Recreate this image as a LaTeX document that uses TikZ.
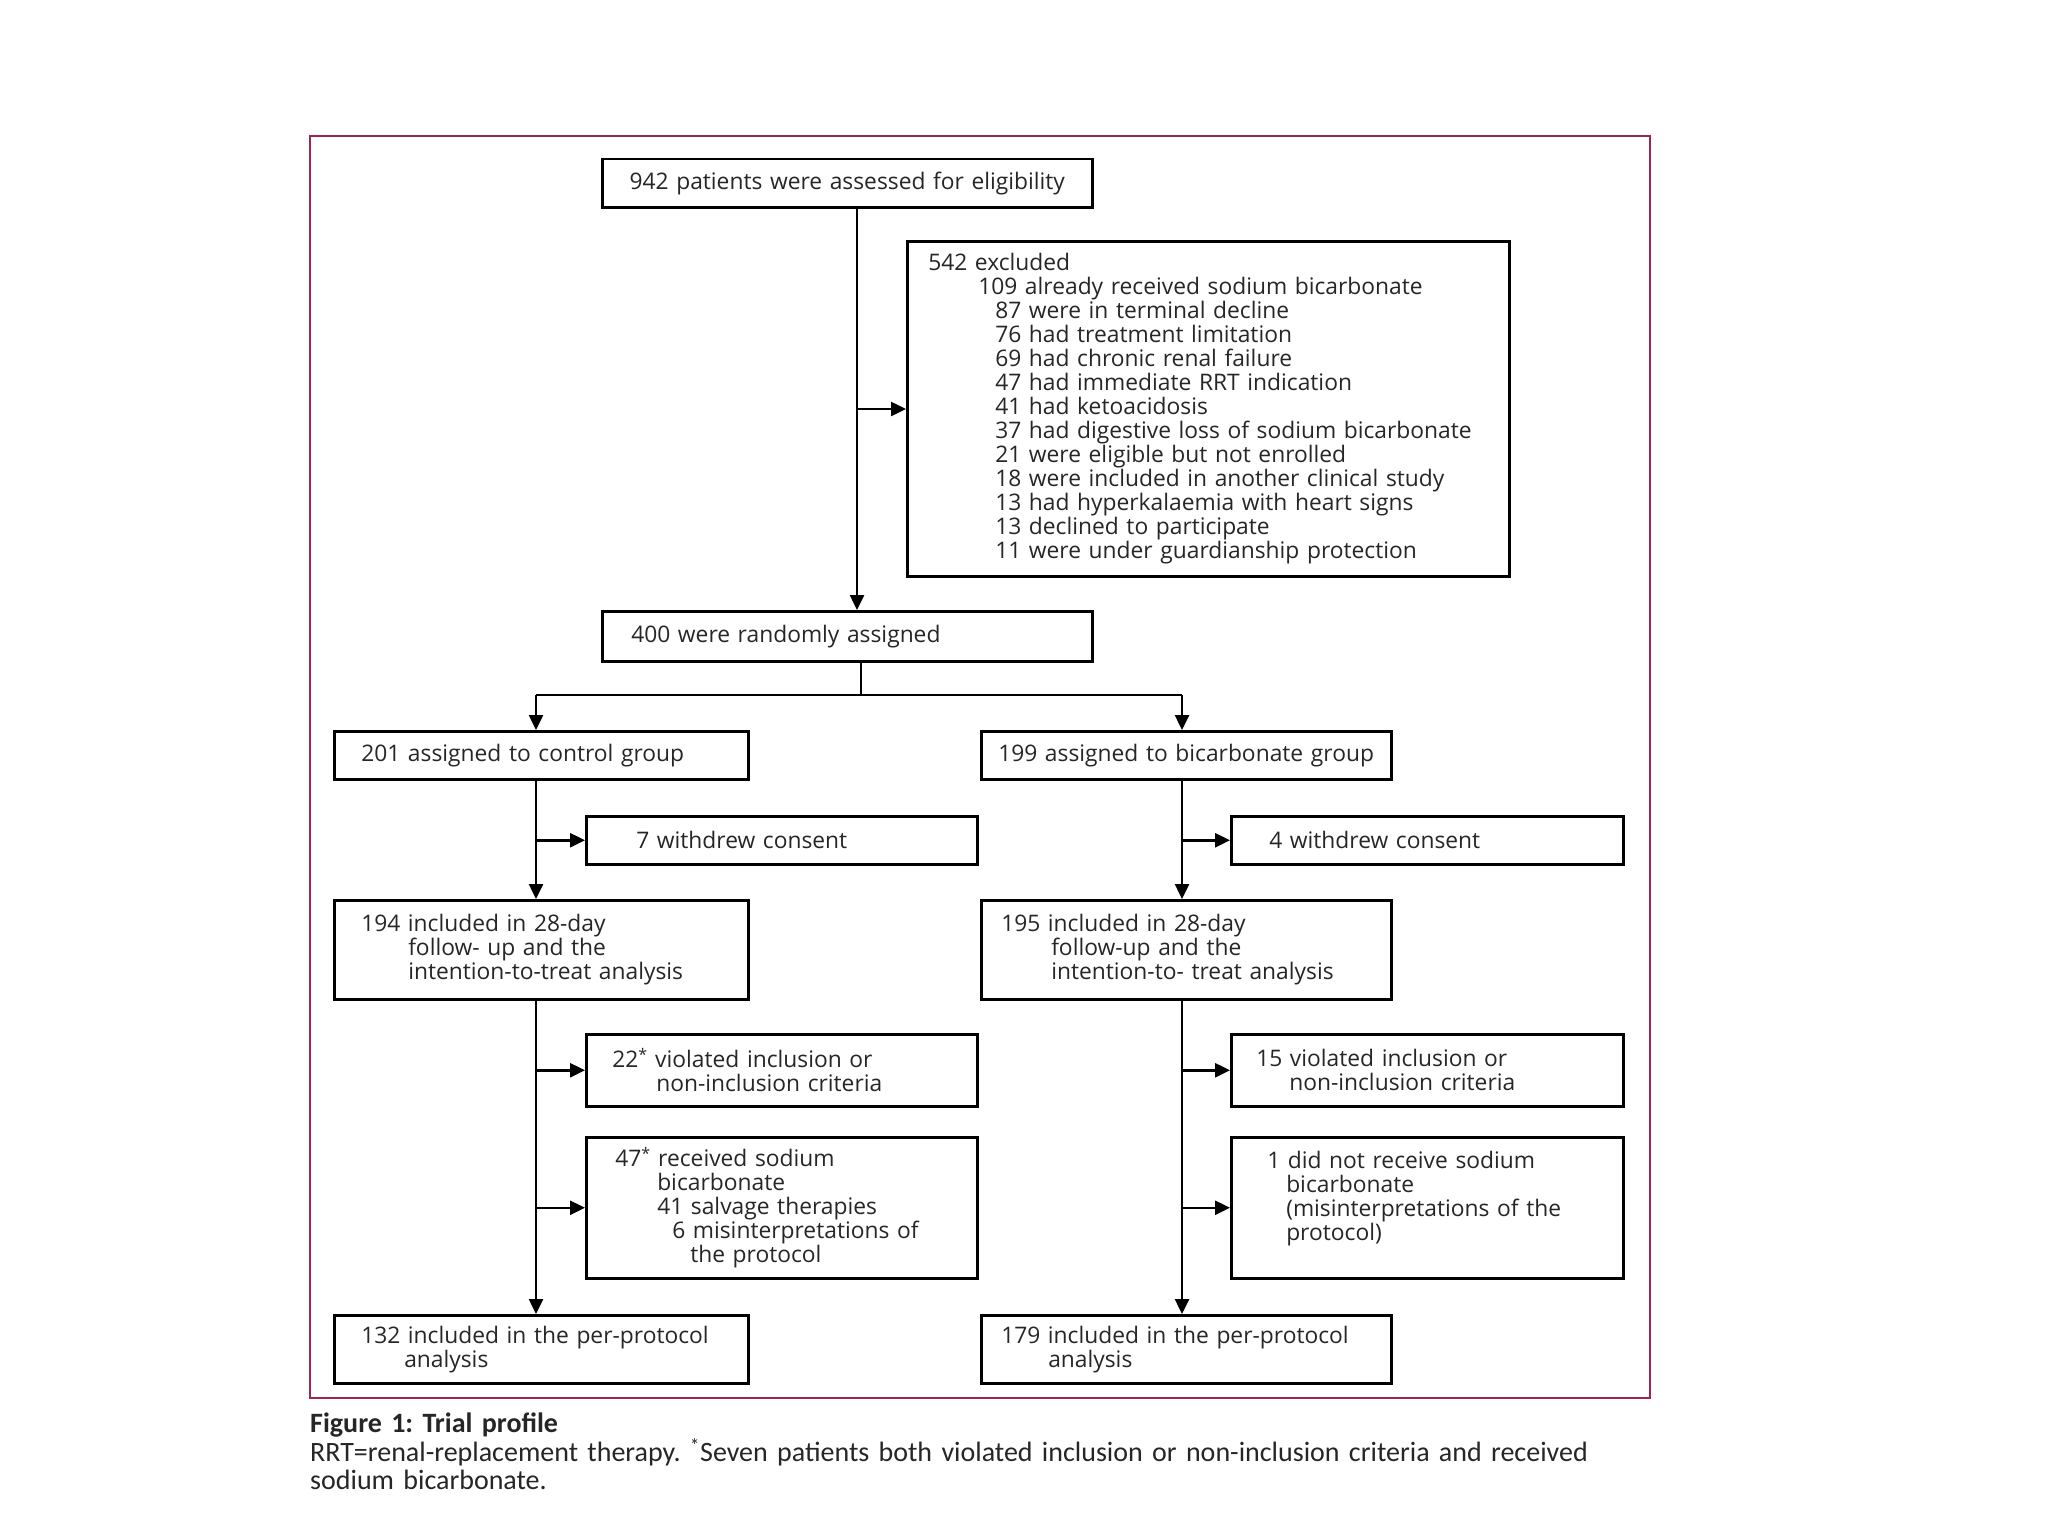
\documentclass[tikz,border=0pt]{standalone}
\usepackage{fontspec}
\setmainfont{Open Sans}
\newfontfamily\capfont{Carlito}
\usetikzlibrary{arrows.meta}
\definecolor{framecol}{RGB}{160,35,80}
\newcommand{\bxfont}{\fontsize{22.8}{24}\selectfont}
\tikzset{
  box/.style={draw, line width=2.5pt, anchor=north west, inner ysep=0pt, align=left, font=\bxfont, text=black!85},
  conn/.style={line width=2.5pt},
  arr/.style={line width=2.5pt, -{Triangle[length=15pt,width=14pt]}},
}
\begin{document}
\frenchspacing
\begin{tikzpicture}[x=1pt,y=-1pt]
\useasboundingbox (0,0) rectangle (2048,1536);
\fill[white] (0,0) rectangle (2048,1536);
\draw[framecol, line width=2.6pt] (310,136) rectangle (1650,1398);

% boxes
\node[box, align=center, minimum width=490pt, minimum height=48pt, text width=470pt, inner xsep=10pt] (b942) at (601,158) {942 patients were assessed for eligibility};
\node[box, minimum width=602pt, minimum height=335pt, text width=560pt, inner xsep=21pt] (bexc) at (906,240)
 {542 excluded\\
  \hspace*{50pt}109 already received sodium bicarbonate\\
  \hspace*{67pt}87 were in terminal decline\\
  \hspace*{67pt}76 had treatment limitation\\
  \hspace*{67pt}69 had chronic renal failure\\
  \hspace*{67pt}47 had immediate RRT indication\\
  \hspace*{67pt}41 had ketoacidosis\\
  \hspace*{67pt}37 had digestive loss of sodium bicarbonate\\
  \hspace*{67pt}21 were eligible but not enrolled\\
  \hspace*{67pt}18 were included in another clinical study\\
  \hspace*{67pt}13 had hyperkalaemia with heart signs\\
  \hspace*{67pt}13 declined to participate\\
  \hspace*{67pt}11 were under guardianship protection};
\node[box, minimum width=490pt, minimum height=50pt, text width=432pt, inner xsep=29pt] (b400) at (601,610) {400 were randomly assigned};

\node[box, minimum width=414pt, minimum height=48pt, text width=360pt, inner xsep=27pt] (bctl) at (333,730) {201 assigned to control group};
\node[box, minimum width=410pt, minimum height=48pt, text width=376pt, inner xsep=17pt] (bbic) at (980,730) {199 assigned to bicarbonate group};

\node[box, minimum width=391pt, minimum height=48pt, text width=291pt, inner xsep=50pt] (bw1) at (585,815) {7 withdrew consent};
\node[box, minimum width=392pt, minimum height=48pt, text width=316pt, inner xsep=38pt] (bw2) at (1230,815) {4 withdrew consent};

\node[box, minimum width=414pt, minimum height=99pt, text width=360pt, inner xsep=27pt] (b194) at (333,899)
 {194 included in 28-day\\ \hspace*{47pt}follow- up and the\\ \hspace*{47pt}intention-to-treat analysis};
\node[box, minimum width=410pt, minimum height=99pt, text width=370pt, inner xsep=20pt] (b195) at (980,899)
 {195 included in 28-day\\ \hspace*{50pt}follow-up and the\\ \hspace*{50pt}intention-to- treat analysis};

\node[box, minimum width=391pt, minimum height=72pt, text width=339pt, inner xsep=26pt] (bv1) at (585,1033)
 {22\textsuperscript{*} violated inclusion or\\ \hspace*{44pt}non-inclusion criteria};
\node[box, minimum width=392pt, minimum height=72pt, text width=342pt, inner xsep=25pt] (bv2) at (1230,1033)
 {15 violated inclusion or\\ \hspace*{33pt}non-inclusion criteria};

\node[box, minimum width=391pt, minimum height=141pt, text width=333pt, inner xsep=29pt] (bs1) at (585,1136)
 {47\textsuperscript{*} received sodium\\ \hspace*{42pt}bicarbonate\\ \hspace*{42pt}41 salvage therapies\\ \hspace*{57pt}6 misinterpretations of\\ \hspace*{75pt}the protocol};
\node[box, minimum width=392pt, minimum height=141pt, text width=320pt, inner xsep=36pt] (bs2) at (1230,1136)
 {1 did not receive sodium\\ \hspace*{19pt}bicarbonate\\ \hspace*{19pt}(misinterpretations of the\\ \hspace*{19pt}protocol)\\ \mbox{}};

\node[box, minimum width=414pt, minimum height=68pt, text width=360pt, inner xsep=27pt] (bp1) at (333,1314)
 {132 included in the per-protocol\\ \hspace*{43pt}analysis};
\node[box, minimum width=410pt, minimum height=68pt, text width=370pt, inner xsep=20pt] (bp2) at (980,1314)
 {179 included in the per-protocol\\ \hspace*{47pt}analysis};

% helper coordinates
\coordinate (m1) at (857,0);
\coordinate (e1) at (857,409);
\coordinate (s0) at (861,695);
\coordinate (sL) at (536,695);
\coordinate (sR) at (1182,695);
\coordinate (tL) at (536,0);
\coordinate (tR) at (1182,0);

% connectors
\draw[arr] (b942.south -| m1) -- (b400.north -| m1);
\draw[arr] (e1) -- (e1 -| bexc.west);
\draw[conn] (b400.south -| s0) -- (s0);
\draw[conn] (sL) -- (sR);
\draw[arr] (sL) -- (sL |- bctl.north);
\draw[arr] (sR) -- (sR |- bbic.north);

\draw[arr] (bctl.south -| tL) -- (b194.north -| tL);
\draw[arr] (tL |- bw1.west) -- (bw1.west);
\draw[arr] (b194.south -| tL) -- (bp1.north -| tL);
\draw[arr] (tL |- bv1.west) -- (bv1.west);
\draw[arr] (tL |- bs1.west) -- (bs1.west);

\draw[arr] (bbic.south -| tR) -- (b195.north -| tR);
\draw[arr] (tR |- bw2.west) -- (bw2.west);
\draw[arr] (b195.south -| tR) -- (bp2.north -| tR);
\draw[arr] (tR |- bv2.west) -- (bv2.west);
\draw[arr] (tR |- bs2.west) -- (bs2.west);

% caption
\node[anchor=north west, inner sep=0pt, align=left, text width=1500pt, text=black!85, font=\capfont\fontsize{28}{27.5}\selectfont] (cap) at (310,1413)
 {\textbf{Figure 1: Trial profile}\\
  RRT=renal-replacement therapy. \textsuperscript{*}Seven patients both violated inclusion or non-inclusion criteria and received\\
  sodium bicarbonate.};
\end{tikzpicture}
\end{document}
